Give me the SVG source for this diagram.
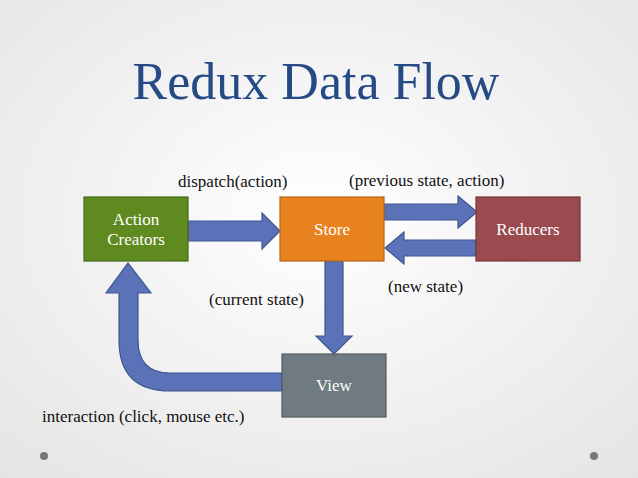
<svg xmlns="http://www.w3.org/2000/svg" width="638" height="478" viewBox="0 0 638 478">
<defs>
<radialGradient id="bg" cx="0.5" cy="0.45" r="0.75"><stop offset="0" stop-color="#ffffff"/><stop offset="1" stop-color="#e4e4e4"/></radialGradient>
<style>
.t{font-family:"Liberation Serif",serif;font-size:17px;fill:#111}
.n{font-family:"Liberation Serif",serif;font-size:17px;fill:#fff;text-anchor:middle}
.a{fill:#5b72b8;stroke:#3f5590;stroke-width:1.2}
.b{stroke-width:1.2}
</style>
</defs>
<rect width="638" height="478" fill="url(#bg)"/>
<text x="316" y="99" text-anchor="middle" font-family="Liberation Serif,serif" font-size="52" fill="#264a86">Redux Data Flow</text>
<circle cx="44" cy="456" r="4" fill="#777"/>
<circle cx="594" cy="456" r="4" fill="#777"/>
<g id="connectors">
<path class="a" d="M188,221 H262 V213 L280,231 L262,249 V241 H188 Z"/>
<path class="a" d="M384,204 H458 V196 L477,212 L458,228 V220 H384 Z"/>
<path class="a" d="M476,240 H404 V232 L385,248 L404,264 V256 H476 Z"/>
<path class="a" d="M325,261 H343 V336 H352 L334,354 L316,336 H325 Z"/>
<path class="a" d="M282,373 H170 Q138,373 138,340 V293 H151 L128,263 L106,293 H119 V340 Q119,391 170,391 H282 Z"/>
<text class="t" x="178" y="187">dispatch(action)</text>
<text class="t" x="349" y="186">(previous state, action)</text>
<text class="t" x="388" y="292">(new state)</text>
<text class="t" x="209" y="305">(current state)</text>
<text class="t" x="42" y="422">interaction (click, mouse etc.)</text>
</g>
<g id="action-creators"><rect class="b" x="84" y="197" width="104" height="64" fill="#5f8a1f" stroke="#476a16"/><text class="n" x="136" y="225">Action</text><text class="n" x="136" y="245">Creators</text></g>
<g id="store"><rect class="b" x="280" y="197" width="104" height="64" fill="#e8821e" stroke="#b8661a"/><text class="n" x="332" y="235">Store</text></g>
<g id="reducers"><rect class="b" x="476" y="197" width="104" height="64" fill="#9b4a4f" stroke="#75363a"/><text class="n" x="528" y="235">Reducers</text></g>
<g id="view"><rect class="b" x="282" y="354" width="104" height="63" fill="#6f7b80" stroke="#535d61"/><text class="n" x="334" y="391">View</text></g>
</svg>
